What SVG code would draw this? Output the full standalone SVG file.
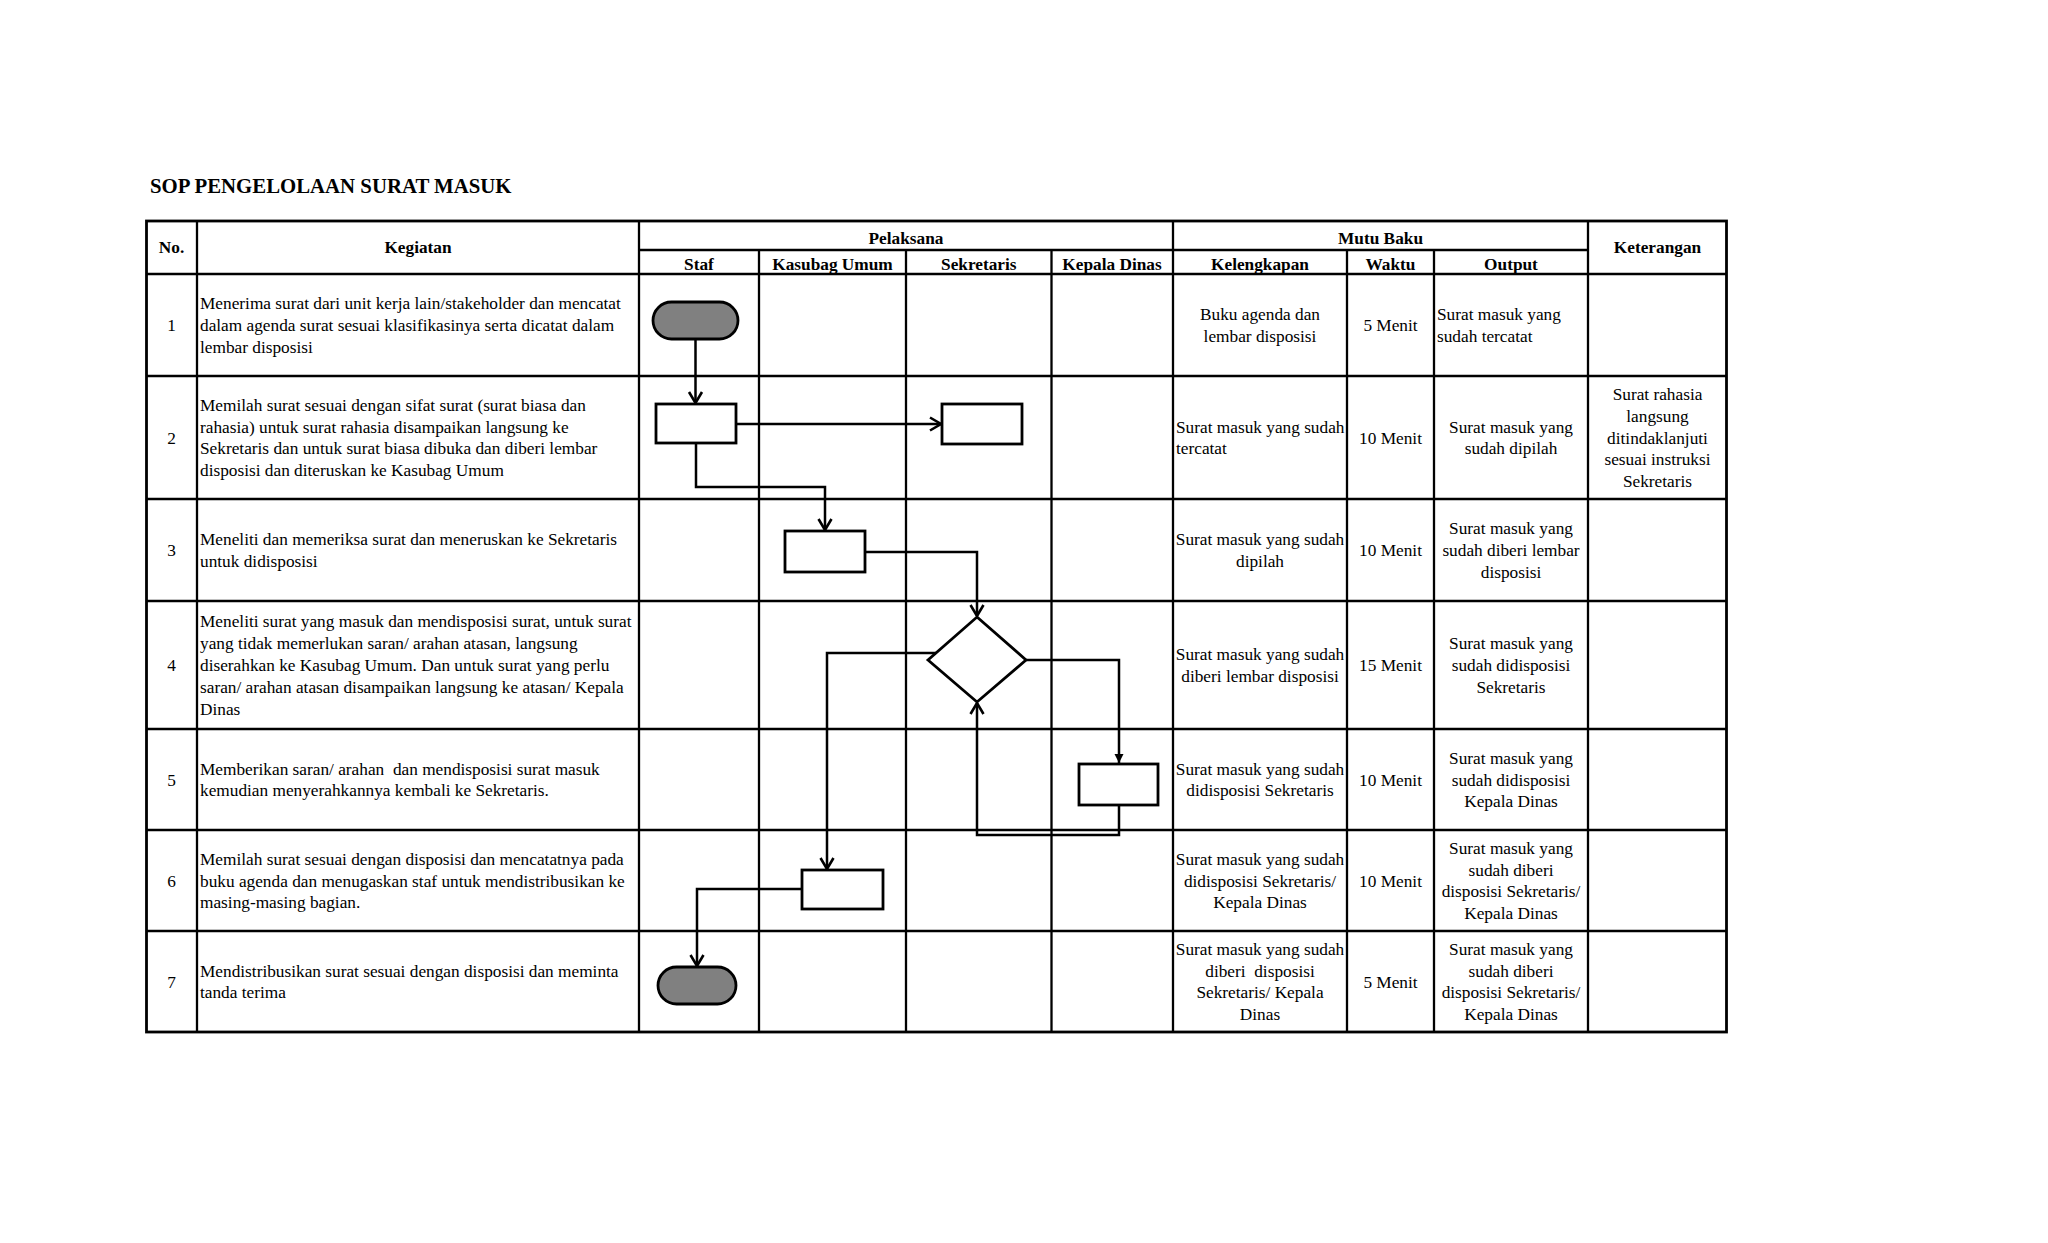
<svg xmlns="http://www.w3.org/2000/svg" width="2048" height="1243" viewBox="0 0 2048 1243">
<style>
text{font-family:"Liberation Serif","Times New Roman",serif;font-size:17.3px;fill:#000}
.b{font-weight:bold}
.t{font-size:20.8px;font-weight:bold}
.c{text-anchor:middle}
.g{stroke:#000;stroke-width:2.3;fill:none}
.o{stroke:#000;stroke-width:2.8;fill:none}
.shape{stroke:#000;stroke-width:2.8;fill:#fff}
.term{stroke:#000;stroke-width:2.8;fill:#808080}
.ca{stroke:#000;stroke-width:2.5;fill:none;marker-end:url(#open)}
.cf{stroke:#000;stroke-width:2.5;fill:none;marker-end:url(#filled)}
</style>
<defs>
<marker id="open" markerUnits="userSpaceOnUse" markerWidth="14" markerHeight="16" refX="11" refY="7" orient="auto" overflow="visible">
<path d="M0,0.5 L11,7 L0,13.5" fill="none" stroke="#000" stroke-width="2.6"/>
</marker>
<marker id="filled" markerUnits="userSpaceOnUse" markerWidth="12" markerHeight="10" refX="9" refY="4.5" orient="auto" overflow="visible">
<path d="M0,0 L9,4.5 L0,9 Z" fill="#000"/>
</marker>
</defs>
<rect width="2048" height="1243" fill="#fff"/>
<text class="t" x="150" y="193">SOP PENGELOLAAN SURAT MASUK</text>

<g id="table">
<rect class="o" x="146.5" y="221" width="1580" height="811"/>
<path class="g" d="M197,221V1032 M639,221V1032 M1173,221V1032 M1588,221V1032 M639,250H1588 M759,250V1032 M906,250V1032 M1051.5,250V1032 M1347,250V1032 M1434,250V1032 M146.5,274H1726.5 M146.5,376H1726.5 M146.5,499H1726.5 M146.5,601H1726.5 M146.5,729H1726.5 M146.5,830H1726.5 M146.5,931H1726.5"/>
</g>

<g id="headers">
<text class="b c" x="171.5" y="253">No.</text>
<text class="b c" x="418" y="253">Kegiatan</text>
<text class="b c" x="906" y="244">Pelaksana</text>
<text class="b c" x="1380.5" y="244">Mutu Baku</text>
<text class="b c" x="1657.5" y="253">Keterangan</text>
<text class="b c" x="699" y="269.5">Staf</text>
<text class="b c" x="832.5" y="269.5">Kasubag Umum</text>
<text class="b c" x="978.8" y="269.5">Sekretaris</text>
<text class="b c" x="1112" y="269.5">Kepala Dinas</text>
<text class="b c" x="1260" y="269.5">Kelengkapan</text>
<text class="b c" x="1390.5" y="269.5">Waktu</text>
<text class="b c" x="1511" y="269.5">Output</text>
</g>

<g id="row1">
<text class="c" x="171.5" y="331">1</text>
<text x="200" y="309.2">Menerima surat dari unit kerja lain/stakeholder dan mencatat</text>
<text x="200" y="331">dalam agenda surat sesuai klasifikasinya serta dicatat dalam</text>
<text x="200" y="352.8">lembar disposisi</text>
<text class="c" x="1260" y="320.1">Buku agenda dan</text>
<text class="c" x="1260" y="341.9">lembar disposisi</text>
<text class="c" x="1390.5" y="331">5 Menit</text>
<text x="1437" y="320.1">Surat masuk yang</text>
<text x="1437" y="341.9">sudah tercatat</text>
</g>

<g id="row2">
<text class="c" x="171.5" y="443.5">2</text>
<text x="200" y="410.8">Memilah surat sesuai dengan sifat surat (surat biasa dan</text>
<text x="200" y="432.6">rahasia) untuk surat rahasia disampaikan langsung ke</text>
<text x="200" y="454.4">Sekretaris dan untuk surat biasa dibuka dan diberi lembar</text>
<text x="200" y="476.2">disposisi dan diteruskan ke Kasubag Umum</text>
<text x="1176" y="432.6">Surat masuk yang sudah</text>
<text x="1176" y="454.4">tercatat</text>
<text class="c" x="1390.5" y="443.5">10 Menit</text>
<text class="c" x="1511" y="432.6">Surat masuk yang</text>
<text class="c" x="1511" y="454.4">sudah dipilah</text>
<text class="c" x="1657.5" y="399.9">Surat rahasia</text>
<text class="c" x="1657.5" y="421.7">langsung</text>
<text class="c" x="1657.5" y="443.5">ditindaklanjuti</text>
<text class="c" x="1657.5" y="465.3">sesuai instruksi</text>
<text class="c" x="1657.5" y="487.1">Sekretaris</text>
</g>

<g id="row3">
<text class="c" x="171.5" y="556">3</text>
<text x="200" y="545.1">Meneliti dan memeriksa surat dan meneruskan ke Sekretaris</text>
<text x="200" y="566.9">untuk didisposisi</text>
<text class="c" x="1260" y="545.1">Surat masuk yang sudah</text>
<text class="c" x="1260" y="566.9">dipilah</text>
<text class="c" x="1390.5" y="556">10 Menit</text>
<text class="c" x="1511" y="534.2">Surat masuk yang</text>
<text class="c" x="1511" y="556">sudah diberi lembar</text>
<text class="c" x="1511" y="577.8">disposisi</text>
</g>

<g id="row4">
<text class="c" x="171.5" y="671">4</text>
<text x="200" y="627.4">Meneliti surat yang masuk dan mendisposisi surat, untuk surat</text>
<text x="200" y="649.2">yang tidak memerlukan saran/ arahan atasan, langsung</text>
<text x="200" y="671">diserahkan ke Kasubag Umum. Dan untuk surat yang perlu</text>
<text x="200" y="692.8">saran/ arahan atasan disampaikan langsung ke atasan/ Kepala</text>
<text x="200" y="714.6">Dinas</text>
<text class="c" x="1260" y="660.1">Surat masuk yang sudah</text>
<text class="c" x="1260" y="681.9">diberi lembar disposisi</text>
<text class="c" x="1390.5" y="671">15 Menit</text>
<text class="c" x="1511" y="649.2">Surat masuk yang</text>
<text class="c" x="1511" y="671">sudah didisposisi</text>
<text class="c" x="1511" y="692.8">Sekretaris</text>
</g>

<g id="row5">
<text class="c" x="171.5" y="785.5">5</text>
<text x="200" y="774.6" xml:space="preserve" style="white-space:pre">Memberikan saran/ arahan  dan mendisposisi surat masuk</text>
<text x="200" y="796.4">kemudian menyerahkannya kembali ke Sekretaris.</text>
<text class="c" x="1260" y="774.6">Surat masuk yang sudah</text>
<text class="c" x="1260" y="796.4">didisposisi Sekretaris</text>
<text class="c" x="1390.5" y="785.5">10 Menit</text>
<text class="c" x="1511" y="763.7">Surat masuk yang</text>
<text class="c" x="1511" y="785.5">sudah didisposisi</text>
<text class="c" x="1511" y="807.3">Kepala Dinas</text>
</g>

<g id="row6">
<text class="c" x="171.5" y="886.5">6</text>
<text x="200" y="864.7">Memilah surat sesuai dengan disposisi dan mencatatnya pada</text>
<text x="200" y="886.5">buku agenda dan menugaskan staf untuk mendistribusikan ke</text>
<text x="200" y="908.3">masing-masing bagian.</text>
<text class="c" x="1260" y="864.7">Surat masuk yang sudah</text>
<text class="c" x="1260" y="886.5">didisposisi Sekretaris/</text>
<text class="c" x="1260" y="908.3">Kepala Dinas</text>
<text class="c" x="1390.5" y="886.5">10 Menit</text>
<text class="c" x="1511" y="853.8">Surat masuk yang</text>
<text class="c" x="1511" y="875.6">sudah diberi</text>
<text class="c" x="1511" y="897.4">disposisi Sekretaris/</text>
<text class="c" x="1511" y="919.2">Kepala Dinas</text>
</g>

<g id="row7">
<text class="c" x="171.5" y="987.5">7</text>
<text x="200" y="976.6">Mendistribusikan surat sesuai dengan disposisi dan meminta</text>
<text x="200" y="998.4">tanda terima</text>
<text class="c" x="1260" y="954.8">Surat masuk yang sudah</text>
<text class="c" x="1260" y="976.6" xml:space="preserve" style="white-space:pre">diberi  disposisi</text>
<text class="c" x="1260" y="998.4">Sekretaris/ Kepala</text>
<text class="c" x="1260" y="1020.2">Dinas</text>
<text class="c" x="1390.5" y="987.5">5 Menit</text>
<text class="c" x="1511" y="954.8">Surat masuk yang</text>
<text class="c" x="1511" y="976.6">sudah diberi</text>
<text class="c" x="1511" y="998.4">disposisi Sekretaris/</text>
<text class="c" x="1511" y="1020.2">Kepala Dinas</text>
</g>

<g id="connectors">
<path class="ca" d="M695.5,340V403"/>
<path class="ca" d="M736,424H941"/>
<path class="ca" d="M696,443V487H825V530"/>
<path class="ca" d="M865,552H977V616"/>
<path class="ca" d="M936,653H827V869"/>
<path class="cf" d="M1026,660H1119V763"/>
<path class="ca" d="M1119,805V835H977V703"/>
<path class="ca" d="M802,889H697V966"/>
</g>

<g id="n1-start"><rect class="term" x="653" y="302" width="85" height="37" rx="18.5"/></g>
<g id="n2-staf"><rect class="shape" x="656" y="404" width="80" height="39"/></g>
<g id="n2-sekretaris"><rect class="shape" x="942" y="404" width="80" height="40"/></g>
<g id="n3-kasubag"><rect class="shape" x="785" y="531" width="80" height="41"/></g>
<g id="n4-decision"><path class="shape" d="M977,617L1026,660L977,702L928,660Z"/></g>
<g id="n5-kepala"><rect class="shape" x="1079" y="764" width="79" height="41"/></g>
<g id="n6-kasubag"><rect class="shape" x="802" y="870" width="81" height="39"/></g>
<g id="n7-end"><rect class="term" x="658" y="967" width="78" height="37" rx="18.5"/></g>
</svg>
